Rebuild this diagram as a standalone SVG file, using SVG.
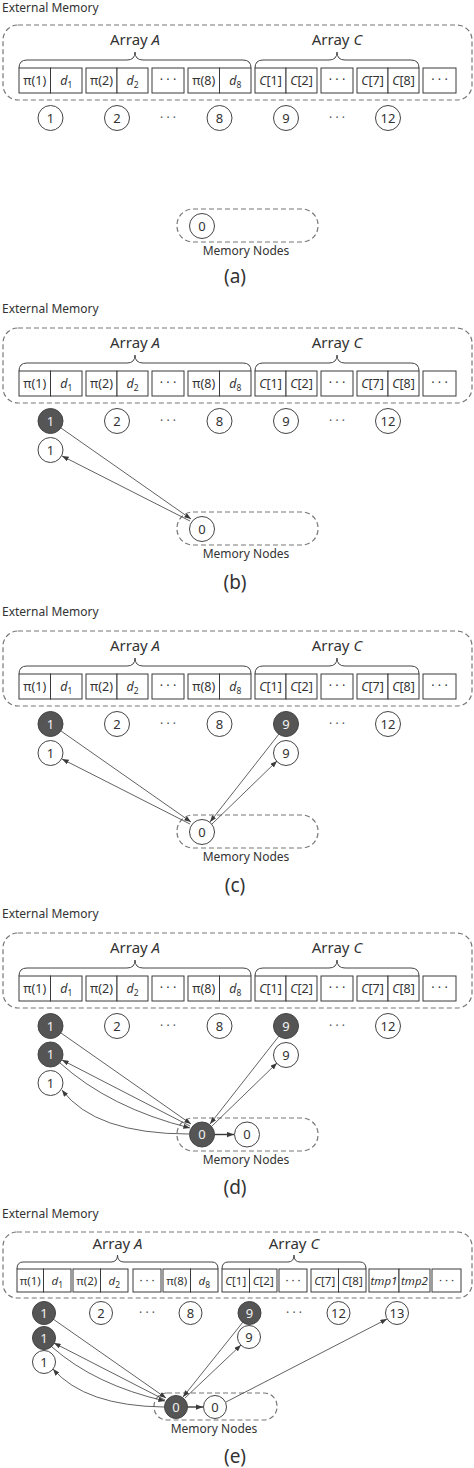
<svg xmlns="http://www.w3.org/2000/svg" width="474" height="1468" viewBox="0 0 474 1468">
<defs>
<style>
text{font-family:"Noto Sans","DejaVu Sans",sans-serif;fill:#333}
.em{font-size:12px}
.arr{font-size:15px;text-anchor:middle}
.cell{fill:#fff;stroke:#3a3a3a;stroke-width:1}
.ct{font-size:12.5px;text-anchor:middle}
.ce{font-size:11.5px;text-anchor:middle}
.dash{fill:none;stroke:#777;stroke-width:1.2;stroke-dasharray:5 3}
.brace{fill:none;stroke:#444;stroke-width:1}
.nw{fill:#fff;stroke:#444;stroke-width:1}
.nd{fill:#555;stroke:#444;stroke-width:1}
.nt{font-size:13px;text-anchor:middle}
.ntd{font-size:13px;text-anchor:middle;fill:#f2f2f2}
.dots{font-size:12px;text-anchor:middle;fill:#555}
.mn{font-size:12px;text-anchor:middle}
.cap{font-size:19px;text-anchor:middle}
.it{font-style:italic}
.sub{font-size:8.5px}
.ln{fill:none;stroke:#3a3a3a;stroke-width:0.8;marker-end:url(#ah)}
.lnb{fill:none;stroke:#3a3a3a;stroke-width:1.4;marker-end:url(#ahb)}
</style>
<marker id="ah" viewBox="0 0 8 6" refX="8" refY="3" markerWidth="7" markerHeight="5" markerUnits="userSpaceOnUse" orient="auto"><path d="M0,0 L8,3 L0,6 z" fill="#3a3a3a"/></marker>
<marker id="ahb" viewBox="0 0 8 6" refX="8" refY="3" markerWidth="7" markerHeight="6" markerUnits="userSpaceOnUse" orient="auto"><path d="M0,0 L8,3 L0,6 z" fill="#3a3a3a"/></marker>
</defs>
<rect width="474" height="1468" fill="#fff"/>

<!-- Panel (a) -->
<g id="panel-a">
<g id="a-extmem">
<text class="em" x="2" y="11.5">External Memory</text>
<rect class="dash" x="3" y="25" width="469" height="75" rx="15"/>
<text class="arr" x="135" y="45">Array <tspan class="it">A</tspan></text>
<text class="arr" x="337" y="45">Array <tspan class="it">C</tspan></text>
<path class="brace" d="M19,68 Q19,60 27,60 L127,60 Q135,60 135,52 Q135,60 143,60 L243,60 Q251,60 251,68"/>
<path class="brace" d="M255,68 Q255,60 263,60 L329,60 Q337,60 337,52 Q337,60 345,60 L411,60 Q419,60 419,68"/>
<rect class="cell" x="19" y="68" width="31.5" height="25"/><text class="ct" x="34.75" y="85">π(1)</text>
<rect class="cell" x="50.5" y="68" width="31.5" height="25"/><text class="ct" x="66.25" y="85"><tspan class="it">d</tspan><tspan class="sub" dy="3">1</tspan></text>
<rect class="cell" x="86" y="68" width="31" height="25"/><text class="ct" x="101.5" y="85">π(2)</text>
<rect class="cell" x="117" y="68" width="31" height="25"/><text class="ct" x="132.5" y="85"><tspan class="it">d</tspan><tspan class="sub" dy="3">2</tspan></text>
<rect class="cell" x="152" y="68" width="32" height="25"/><text class="ct" x="168" y="84">· · ·</text>
<rect class="cell" x="188" y="68" width="31.5" height="25"/><text class="ct" x="203.75" y="85">π(8)</text>
<rect class="cell" x="219.5" y="68" width="31.5" height="25"/><text class="ct" x="235.25" y="85"><tspan class="it">d</tspan><tspan class="sub" dy="3">8</tspan></text>
<rect class="cell" x="255" y="68" width="31" height="25"/><text class="ct" x="270.5" y="85"><tspan class="it">C</tspan>[1]</text>
<rect class="cell" x="286" y="68" width="31" height="25"/><text class="ct" x="301.5" y="85"><tspan class="it">C</tspan>[2]</text>
<rect class="cell" x="321" y="68" width="32" height="25"/><text class="ct" x="337" y="84">· · ·</text>
<rect class="cell" x="357" y="68" width="31" height="25"/><text class="ct" x="372.5" y="85"><tspan class="it">C</tspan>[7]</text>
<rect class="cell" x="388" y="68" width="31" height="25"/><text class="ct" x="403.5" y="85"><tspan class="it">C</tspan>[8]</text>
<rect class="cell" x="423" y="68" width="33" height="25"/><text class="ct" x="439.5" y="84">· · ·</text>
</g>
<g id="a-n1"><circle class="nw" cx="50.5" cy="118" r="12.5"/><text class="nt" x="50.5" y="122.5">1</text></g>
<g id="a-n2"><circle class="nw" cx="117" cy="118" r="12.5"/><text class="nt" x="117" y="122.5">2</text></g>
<text class="dots" x="168" y="122">· · ·</text>
<g id="a-n8"><circle class="nw" cx="219.5" cy="118" r="12.5"/><text class="nt" x="219.5" y="122.5">8</text></g>
<g id="a-n9"><circle class="nw" cx="286" cy="118" r="12.5"/><text class="nt" x="286" y="122.5">9</text></g>
<text class="dots" x="337" y="122">· · ·</text>
<g id="a-n12"><circle class="nw" cx="388" cy="118" r="12.5"/><text class="nt" x="388" y="122.5">12</text></g>
<g id="a-mem">
<rect class="dash" x="177" y="209" width="141" height="33" rx="16"/>
<circle class="nw" cx="202" cy="226" r="12.5"/><text class="nt" x="202" y="230.5">0</text>
<text class="mn" x="246" y="255">Memory Nodes</text>
</g>
<text class="cap" x="235" y="283">(a)</text>
</g>

<!-- Panel (b) -->
<g id="panel-b" transform="translate(0,303)">
<g id="b-extmem">
<text class="em" x="2" y="10">External Memory</text>
<rect class="dash" x="3" y="25" width="469" height="75" rx="15"/>
<text class="arr" x="135" y="45">Array <tspan class="it">A</tspan></text>
<text class="arr" x="337" y="45">Array <tspan class="it">C</tspan></text>
<path class="brace" d="M19,68 Q19,60 27,60 L127,60 Q135,60 135,52 Q135,60 143,60 L243,60 Q251,60 251,68"/>
<path class="brace" d="M255,68 Q255,60 263,60 L329,60 Q337,60 337,52 Q337,60 345,60 L411,60 Q419,60 419,68"/>
<rect class="cell" x="19" y="68" width="31.5" height="25"/><text class="ct" x="34.75" y="85">π(1)</text>
<rect class="cell" x="50.5" y="68" width="31.5" height="25"/><text class="ct" x="66.25" y="85"><tspan class="it">d</tspan><tspan class="sub" dy="3">1</tspan></text>
<rect class="cell" x="86" y="68" width="31" height="25"/><text class="ct" x="101.5" y="85">π(2)</text>
<rect class="cell" x="117" y="68" width="31" height="25"/><text class="ct" x="132.5" y="85"><tspan class="it">d</tspan><tspan class="sub" dy="3">2</tspan></text>
<rect class="cell" x="152" y="68" width="32" height="25"/><text class="ct" x="168" y="84">· · ·</text>
<rect class="cell" x="188" y="68" width="31.5" height="25"/><text class="ct" x="203.75" y="85">π(8)</text>
<rect class="cell" x="219.5" y="68" width="31.5" height="25"/><text class="ct" x="235.25" y="85"><tspan class="it">d</tspan><tspan class="sub" dy="3">8</tspan></text>
<rect class="cell" x="255" y="68" width="31" height="25"/><text class="ct" x="270.5" y="85"><tspan class="it">C</tspan>[1]</text>
<rect class="cell" x="286" y="68" width="31" height="25"/><text class="ct" x="301.5" y="85"><tspan class="it">C</tspan>[2]</text>
<rect class="cell" x="321" y="68" width="32" height="25"/><text class="ct" x="337" y="84">· · ·</text>
<rect class="cell" x="357" y="68" width="31" height="25"/><text class="ct" x="372.5" y="85"><tspan class="it">C</tspan>[7]</text>
<rect class="cell" x="388" y="68" width="31" height="25"/><text class="ct" x="403.5" y="85"><tspan class="it">C</tspan>[8]</text>
<rect class="cell" x="423" y="68" width="33" height="25"/><text class="ct" x="439.5" y="84">· · ·</text>
</g>
<g id="b-n1d"><circle class="nd" cx="50.5" cy="118" r="12.5"/><text class="ntd" x="50.5" y="122.5">1</text></g>
<g id="b-n1"><circle class="nw" cx="50.5" cy="147" r="12.5"/><text class="nt" x="50.5" y="151.5">1</text></g>
<g id="b-n2"><circle class="nw" cx="117" cy="118" r="12.5"/><text class="nt" x="117" y="122.5">2</text></g>
<text class="dots" x="168" y="122">· · ·</text>
<g id="b-n8"><circle class="nw" cx="219.5" cy="118" r="12.5"/><text class="nt" x="219.5" y="122.5">8</text></g>
<g id="b-n9"><circle class="nw" cx="286" cy="118" r="12.5"/><text class="nt" x="286" y="122.5">9</text></g>
<text class="dots" x="337" y="122">· · ·</text>
<g id="b-n12"><circle class="nw" cx="388" cy="118" r="12.5"/><text class="nt" x="388" y="122.5">12</text></g>
<g id="b-mem">
<rect class="dash" x="177" y="209" width="141" height="33" rx="16"/>
<circle class="nw" cx="202" cy="226" r="12.5"/><text class="nt" x="202" y="230.5">0</text>
<text class="mn" x="246" y="255">Memory Nodes</text>
</g>
<g id="b-connectors">
<path class="ln" d="M61,125 L191,216"/>
<path class="ln" d="M190,218 L62,153"/>
</g>
<text class="cap" x="235" y="286">(b)</text>
</g>

<!-- Panel (c) -->
<g id="panel-c" transform="translate(0,606)">
<g id="c-extmem">
<text class="em" x="2" y="10">External Memory</text>
<rect class="dash" x="3" y="25" width="469" height="75" rx="15"/>
<text class="arr" x="135" y="45">Array <tspan class="it">A</tspan></text>
<text class="arr" x="337" y="45">Array <tspan class="it">C</tspan></text>
<path class="brace" d="M19,68 Q19,60 27,60 L127,60 Q135,60 135,52 Q135,60 143,60 L243,60 Q251,60 251,68"/>
<path class="brace" d="M255,68 Q255,60 263,60 L329,60 Q337,60 337,52 Q337,60 345,60 L411,60 Q419,60 419,68"/>
<rect class="cell" x="19" y="68" width="31.5" height="25"/><text class="ct" x="34.75" y="85">π(1)</text>
<rect class="cell" x="50.5" y="68" width="31.5" height="25"/><text class="ct" x="66.25" y="85"><tspan class="it">d</tspan><tspan class="sub" dy="3">1</tspan></text>
<rect class="cell" x="86" y="68" width="31" height="25"/><text class="ct" x="101.5" y="85">π(2)</text>
<rect class="cell" x="117" y="68" width="31" height="25"/><text class="ct" x="132.5" y="85"><tspan class="it">d</tspan><tspan class="sub" dy="3">2</tspan></text>
<rect class="cell" x="152" y="68" width="32" height="25"/><text class="ct" x="168" y="84">· · ·</text>
<rect class="cell" x="188" y="68" width="31.5" height="25"/><text class="ct" x="203.75" y="85">π(8)</text>
<rect class="cell" x="219.5" y="68" width="31.5" height="25"/><text class="ct" x="235.25" y="85"><tspan class="it">d</tspan><tspan class="sub" dy="3">8</tspan></text>
<rect class="cell" x="255" y="68" width="31" height="25"/><text class="ct" x="270.5" y="85"><tspan class="it">C</tspan>[1]</text>
<rect class="cell" x="286" y="68" width="31" height="25"/><text class="ct" x="301.5" y="85"><tspan class="it">C</tspan>[2]</text>
<rect class="cell" x="321" y="68" width="32" height="25"/><text class="ct" x="337" y="84">· · ·</text>
<rect class="cell" x="357" y="68" width="31" height="25"/><text class="ct" x="372.5" y="85"><tspan class="it">C</tspan>[7]</text>
<rect class="cell" x="388" y="68" width="31" height="25"/><text class="ct" x="403.5" y="85"><tspan class="it">C</tspan>[8]</text>
<rect class="cell" x="423" y="68" width="33" height="25"/><text class="ct" x="439.5" y="84">· · ·</text>
</g>
<g id="c-n1d"><circle class="nd" cx="50.5" cy="118" r="12.5"/><text class="ntd" x="50.5" y="122.5">1</text></g>
<g id="c-n1"><circle class="nw" cx="50.5" cy="147" r="12.5"/><text class="nt" x="50.5" y="151.5">1</text></g>
<g id="c-n2"><circle class="nw" cx="117" cy="118" r="12.5"/><text class="nt" x="117" y="122.5">2</text></g>
<text class="dots" x="168" y="122">· · ·</text>
<g id="c-n8"><circle class="nw" cx="219.5" cy="118" r="12.5"/><text class="nt" x="219.5" y="122.5">8</text></g>
<g id="c-n9d"><circle class="nd" cx="286" cy="118" r="12.5"/><text class="ntd" x="286" y="122.5">9</text></g>
<g id="c-n9"><circle class="nw" cx="286" cy="147" r="12.5"/><text class="nt" x="286" y="151.5">9</text></g>
<text class="dots" x="337" y="122">· · ·</text>
<g id="c-n12"><circle class="nw" cx="388" cy="118" r="12.5"/><text class="nt" x="388" y="122.5">12</text></g>
<g id="c-mem">
<rect class="dash" x="177" y="209" width="141" height="33" rx="16"/>
<circle class="nw" cx="202" cy="226" r="12.5"/><text class="nt" x="202" y="230.5">0</text>
<text class="mn" x="246" y="255">Memory Nodes</text>
</g>
<g id="c-connectors">
<path class="ln" d="M61,125 L191,216"/>
<path class="ln" d="M190,218 L62,153"/>
<path class="ln" d="M279,128 L210,216"/>
<path class="ln" d="M212,218 L277,155"/>
</g>
<text class="cap" x="235" y="286">(c)</text>
</g>

<!-- Panel (d) -->
<g id="panel-d" transform="translate(0,908)">
<g id="d-extmem">
<text class="em" x="2" y="10">External Memory</text>
<rect class="dash" x="3" y="25" width="469" height="75" rx="15"/>
<text class="arr" x="135" y="45">Array <tspan class="it">A</tspan></text>
<text class="arr" x="337" y="45">Array <tspan class="it">C</tspan></text>
<path class="brace" d="M19,68 Q19,60 27,60 L127,60 Q135,60 135,52 Q135,60 143,60 L243,60 Q251,60 251,68"/>
<path class="brace" d="M255,68 Q255,60 263,60 L329,60 Q337,60 337,52 Q337,60 345,60 L411,60 Q419,60 419,68"/>
<rect class="cell" x="19" y="68" width="31.5" height="25"/><text class="ct" x="34.75" y="85">π(1)</text>
<rect class="cell" x="50.5" y="68" width="31.5" height="25"/><text class="ct" x="66.25" y="85"><tspan class="it">d</tspan><tspan class="sub" dy="3">1</tspan></text>
<rect class="cell" x="86" y="68" width="31" height="25"/><text class="ct" x="101.5" y="85">π(2)</text>
<rect class="cell" x="117" y="68" width="31" height="25"/><text class="ct" x="132.5" y="85"><tspan class="it">d</tspan><tspan class="sub" dy="3">2</tspan></text>
<rect class="cell" x="152" y="68" width="32" height="25"/><text class="ct" x="168" y="84">· · ·</text>
<rect class="cell" x="188" y="68" width="31.5" height="25"/><text class="ct" x="203.75" y="85">π(8)</text>
<rect class="cell" x="219.5" y="68" width="31.5" height="25"/><text class="ct" x="235.25" y="85"><tspan class="it">d</tspan><tspan class="sub" dy="3">8</tspan></text>
<rect class="cell" x="255" y="68" width="31" height="25"/><text class="ct" x="270.5" y="85"><tspan class="it">C</tspan>[1]</text>
<rect class="cell" x="286" y="68" width="31" height="25"/><text class="ct" x="301.5" y="85"><tspan class="it">C</tspan>[2]</text>
<rect class="cell" x="321" y="68" width="32" height="25"/><text class="ct" x="337" y="84">· · ·</text>
<rect class="cell" x="357" y="68" width="31" height="25"/><text class="ct" x="372.5" y="85"><tspan class="it">C</tspan>[7]</text>
<rect class="cell" x="388" y="68" width="31" height="25"/><text class="ct" x="403.5" y="85"><tspan class="it">C</tspan>[8]</text>
<rect class="cell" x="423" y="68" width="33" height="25"/><text class="ct" x="439.5" y="84">· · ·</text>
</g>
<g id="d-n1d"><circle class="nd" cx="50.5" cy="118" r="12.5"/><text class="ntd" x="50.5" y="122.5">1</text></g>
<g id="d-n1d2"><circle class="nd" cx="50.5" cy="146.5" r="12.5"/><text class="ntd" x="50.5" y="151">1</text></g>
<g id="d-n1"><circle class="nw" cx="50.5" cy="175" r="12.5"/><text class="nt" x="50.5" y="179.5">1</text></g>
<g id="d-n2"><circle class="nw" cx="117" cy="118" r="12.5"/><text class="nt" x="117" y="122.5">2</text></g>
<text class="dots" x="168" y="122">· · ·</text>
<g id="d-n8"><circle class="nw" cx="219.5" cy="118" r="12.5"/><text class="nt" x="219.5" y="122.5">8</text></g>
<g id="d-n9d"><circle class="nd" cx="286" cy="118" r="12.5"/><text class="ntd" x="286" y="122.5">9</text></g>
<g id="d-n9"><circle class="nw" cx="286" cy="147" r="12.5"/><text class="nt" x="286" y="151.5">9</text></g>
<text class="dots" x="337" y="122">· · ·</text>
<g id="d-n12"><circle class="nw" cx="388" cy="118" r="12.5"/><text class="nt" x="388" y="122.5">12</text></g>
<g id="d-mem">
<rect class="dash" x="177" y="210" width="141" height="33" rx="16"/>
<circle class="nd" cx="202" cy="226.5" r="12.5"/><text class="ntd" x="202" y="231">0</text>
<circle class="nw" cx="247" cy="226.5" r="12.5"/><text class="nt" x="247" y="231">0</text>
<text class="mn" x="246" y="256">Memory Nodes</text>
</g>
<g id="d-connectors">
<path class="ln" d="M61,125 L191,216"/>
<path class="ln" d="M190,218 L62,152"/>
<path class="ln" d="M60,155 Q110,200 190,220"/>
<path class="ln" d="M189,226 Q95,226 62,182"/>
<path class="ln" d="M279,128 L210,216"/>
<path class="ln" d="M212,218 L277,155"/>
<path class="lnb" d="M214.5,226.5 L234,226.5"/>
</g>
<text class="cap" x="235" y="286">(d)</text>
</g>

<!-- Panel (e) -->
<g id="panel-e">
<g id="e-extmem">
<text class="em" x="2" y="1218">External Memory</text>
<rect class="dash" x="3" y="1232" width="469" height="66" rx="14"/>
<text class="arr" x="117.5" y="1249">Array <tspan class="it">A</tspan></text>
<text class="arr" x="294" y="1249">Array <tspan class="it">C</tspan></text>
<path class="brace" d="M17,1269 Q17,1262 23,1262 L111,1262 Q117.5,1262 117.5,1255 Q117.5,1262 124,1262 L212,1262 Q218,1262 218,1269"/>
<path class="brace" d="M222,1269 Q222,1262 228,1262 L288,1262 Q294,1262 294,1255 Q294,1262 300,1262 L360,1262 Q366,1262 366,1269"/>
<rect class="cell" x="17" y="1269" width="26.5" height="23"/><text class="ce" x="30.25" y="1285">π(1)</text>
<rect class="cell" x="43.5" y="1269" width="27.5" height="23"/><text class="ce" x="57.25" y="1285"><tspan class="it">d</tspan><tspan class="sub" dy="3">1</tspan></text>
<rect class="cell" x="73" y="1269" width="27.5" height="23"/><text class="ce" x="86.75" y="1285">π(2)</text>
<rect class="cell" x="100.5" y="1269" width="27.5" height="23"/><text class="ce" x="114.25" y="1285"><tspan class="it">d</tspan><tspan class="sub" dy="3">2</tspan></text>
<rect class="cell" x="133" y="1269" width="28" height="23"/><text class="ce" x="147" y="1284">· · ·</text>
<rect class="cell" x="163" y="1269" width="27.5" height="23"/><text class="ce" x="176.75" y="1285">π(8)</text>
<rect class="cell" x="190.5" y="1269" width="27.5" height="23"/><text class="ce" x="204.25" y="1285"><tspan class="it">d</tspan><tspan class="sub" dy="3">8</tspan></text>
<rect class="cell" x="222" y="1269" width="27.5" height="23"/><text class="ce" x="235.75" y="1285"><tspan class="it">C</tspan>[1]</text>
<rect class="cell" x="249.5" y="1269" width="27.5" height="23"/><text class="ce" x="263.25" y="1285"><tspan class="it">C</tspan>[2]</text>
<rect class="cell" x="279" y="1269" width="28" height="23"/><text class="ce" x="293" y="1284">· · ·</text>
<rect class="cell" x="311" y="1269" width="27.5" height="23"/><text class="ce" x="324.75" y="1285"><tspan class="it">C</tspan>[7]</text>
<rect class="cell" x="338.5" y="1269" width="27.5" height="23"/><text class="ce" x="352.25" y="1285"><tspan class="it">C</tspan>[8]</text>
<rect class="cell" x="369" y="1269" width="30" height="23"/><text class="ce it" x="384" y="1285">tmp1</text>
<rect class="cell" x="399" y="1269" width="31" height="23"/><text class="ce it" x="414.5" y="1285">tmp2</text>
<rect class="cell" x="432" y="1269" width="29" height="23"/><text class="ce" x="446.5" y="1284">· · ·</text>
</g>
<g id="e-n1d"><circle class="nd" cx="44" cy="1313" r="11.5"/><text class="ntd" x="44" y="1317.5">1</text></g>
<g id="e-n1d2"><circle class="nd" cx="44" cy="1338" r="11.5"/><text class="ntd" x="44" y="1342.5">1</text></g>
<g id="e-n1"><circle class="nw" cx="44" cy="1362" r="11.5"/><text class="nt" x="44" y="1366.5">1</text></g>
<g id="e-n2"><circle class="nw" cx="101" cy="1313" r="11.5"/><text class="nt" x="101" y="1317.5">2</text></g>
<text class="dots" x="147" y="1317">· · ·</text>
<g id="e-n8"><circle class="nw" cx="190.5" cy="1313" r="11.5"/><text class="nt" x="190.5" y="1317.5">8</text></g>
<g id="e-n9d"><circle class="nd" cx="249.5" cy="1313" r="11.5"/><text class="ntd" x="249.5" y="1317.5">9</text></g>
<g id="e-n9"><circle class="nw" cx="249" cy="1337" r="11.5"/><text class="nt" x="249" y="1341.5">9</text></g>
<text class="dots" x="294" y="1317">· · ·</text>
<g id="e-n12"><circle class="nw" cx="338.5" cy="1313" r="11.5"/><text class="nt" x="338.5" y="1317.5">12</text></g>
<g id="e-n13"><circle class="nw" cx="397" cy="1313" r="11.5"/><text class="nt" x="397" y="1317.5">13</text></g>
<g id="e-mem">
<rect class="dash" x="154" y="1393" width="123" height="27" rx="13"/>
<circle class="nd" cx="176" cy="1407" r="11.5"/><text class="ntd" x="176" y="1411.5">0</text>
<circle class="nw" cx="215" cy="1407" r="11.5"/><text class="nt" x="215" y="1411.5">0</text>
<text class="mn" x="214" y="1433">Memory Nodes</text>
</g>
<g id="e-connectors">
<path class="ln" d="M53,1319 L166,1398"/>
<path class="ln" d="M165,1400 L54,1343"/>
<path class="ln" d="M52,1347 Q95,1385 165,1401"/>
<path class="ln" d="M164,1407 Q85,1406 53,1369"/>
<path class="ln" d="M243,1322 L183,1397"/>
<path class="ln" d="M185,1398 L241,1345"/>
<path class="lnb" d="M187.5,1407 L203,1407"/>
<path class="ln" d="M226,1402 L387,1319"/>
</g>
<text class="cap" x="235" y="1463">(e)</text>
</g>
</svg>
